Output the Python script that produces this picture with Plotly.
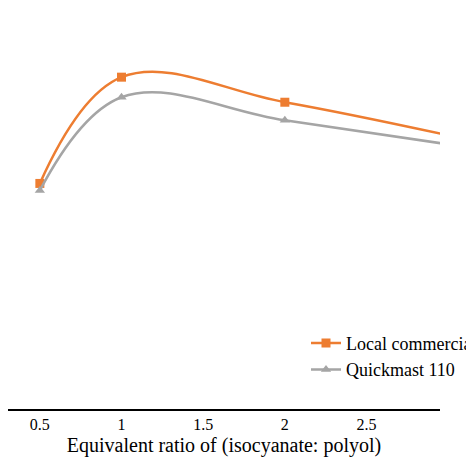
import plotly.graph_objects as go

ratio = [0.5, 1, 2, 3]
local_commercial = [22.5, 33.1, 30.6, 27.3]
quickmast_110 = [21.8, 31.1, 28.8, 26.4]

serif = "Liberation Serif, Times New Roman, serif"

fig = go.Figure()
fig.add_trace(go.Scatter(
    x=ratio, y=local_commercial, name="Local commercial",
    mode="lines+markers", line=dict(color="#ED7D31", width=2.5, shape="spline", smoothing=1.1),
    marker=dict(symbol="square", size=9, color="#ED7D31"),
))
fig.add_trace(go.Scatter(
    x=ratio, y=quickmast_110, name="Quickmast 110",
    mode="lines+markers", line=dict(color="#A5A5A5", width=2.5, shape="spline", smoothing=1.1),
    marker=dict(symbol="triangle-up", size=9, color="#A5A5A5"),
))

fig.update_layout(
    width=474, height=474,
    margin=dict(l=0, r=0, t=0, b=73),
    plot_bgcolor="white", paper_bgcolor="white",
    font=dict(family=serif, size=15, color="black"),
    legend=dict(x=0.69, y=0.21, xanchor="left", yanchor="top",
                bgcolor="rgba(0,0,0,0)", font=dict(family=serif, size=18, color="black")),
    xaxis=dict(
        range=[0.305, 2.95], tickvals=[0.5, 1, 1.5, 2, 2.5],
        showgrid=False, zeroline=False, showline=True, linecolor="black", linewidth=1.5,
        ticks="", tickfont=dict(family=serif, size=16),
        title=dict(text="Equivalent ratio of (isocyanate: polyol)", font=dict(family=serif, size=20), standoff=6),
    ),
    yaxis=dict(range=[0, 40], visible=False),
)

fig.write_html("out.html")
